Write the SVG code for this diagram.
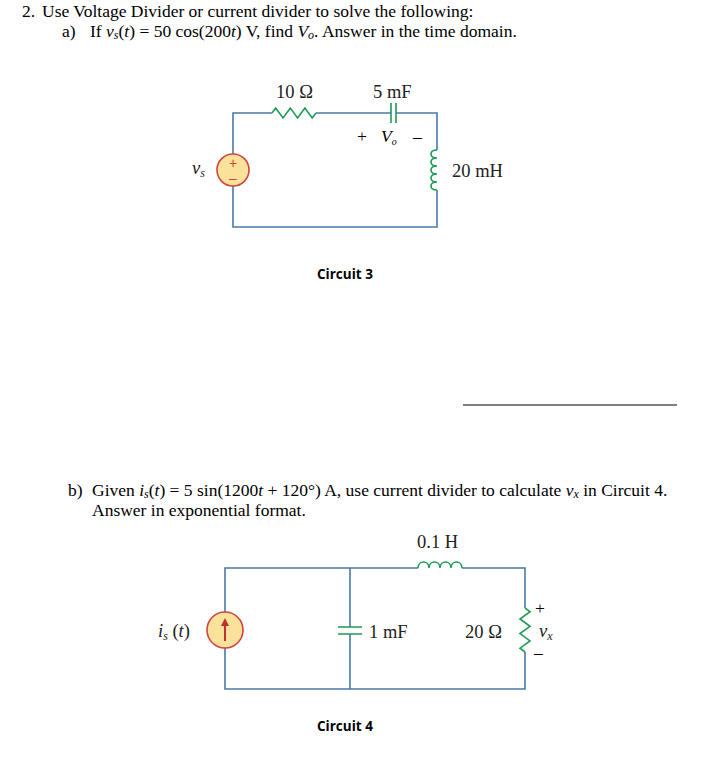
<svg xmlns="http://www.w3.org/2000/svg" width="723" height="782" viewBox="0 0 723 782">
<style>
.t{font-family:"Liberation Serif",serif;font-size:17.5px;fill:#000}
.l{font-family:"Liberation Serif",serif;font-size:18.5px;fill:#222}
.w{fill:none;stroke:#4a78a8;stroke-width:1.6}
.g{fill:none;stroke:#1f9a55;stroke-width:1.6}
.src{fill:#fbe29a;stroke:#d0453c;stroke-width:1.6}
.c{font-family:"Open Sans","Liberation Sans",sans-serif;font-size:13.5px;font-weight:bold}
</style>
<rect width="723" height="782" fill="#fff"/>
<text class="t" x="22" y="17">2.</text>
<text class="t" x="42" y="17">Use Voltage Divider or current divider to solve the following:</text>
<text class="t" x="62" y="37">a)</text>
<text class="t" x="90" y="37">If <tspan font-style="italic">v</tspan><tspan font-size="12" dy="2" font-style="italic">s</tspan><tspan dy="-2">(<tspan font-style="italic">t</tspan>) = 50 cos(200<tspan font-style="italic">t</tspan>) V, find <tspan font-style="italic">V</tspan></tspan><tspan font-size="12" dy="2" font-style="italic">o</tspan><tspan dy="-2">. Answer in the time domain.</tspan></text>
<g id="wires3" class="w">
<path d="M233 154V113H272M316 113H391M396 113H437V150M437 190V227H233V186"/>
</g>
<g id="R1"><path class="g" d="M272 113l3.7-5 7.3 10 7.3-10 7.3 10 7.3-10 7.3 10 3.8-5"/><text class="l" x="276" y="98">10 Ω</text></g>
<g id="C1"><path class="g" d="M391 103v20M396 103v20"/><text class="l" x="373" y="98">5 mF</text>
<text class="t" x="357" y="142" font-size="13">+</text><text class="t" x="381" y="142" font-style="italic" font-size="14">V<tspan font-size="10" dy="3">o</tspan></text><text class="t" x="413" y="142" font-size="13">–</text></g>
<g id="L1"><path class="g" d="M437 150c-8 0-8 8 0 8c-8 0-8 8 0 8c-8 0-8 8 0 8c-8 0-8 8 0 8c-8 0-8 8 0 8"/><text class="l" x="452" y="177">20 mH</text></g>
<g id="Vs"><circle class="src" cx="233" cy="170" r="16"/><text x="233" y="168" text-anchor="middle" font-family="Liberation Sans" font-size="14" fill="#d0453c">+</text><text x="233" y="183" text-anchor="middle" font-family="Liberation Sans" font-size="14" fill="#d0453c">–</text>
<text class="l" x="192" y="174" font-style="italic">v<tspan font-size="12" dy="3">s</tspan></text></g>
<text class="c" x="317" y="279">Circuit 3</text>
<path d="M463 405H677" stroke="#000" stroke-width="1"/>
<text class="t" x="68" y="496">b)</text>
<text class="t" x="92" y="496">Given <tspan font-style="italic">i</tspan><tspan font-size="12" dy="2" font-style="italic">s</tspan><tspan dy="-2">(<tspan font-style="italic">t</tspan>) = 5 sin(1200<tspan font-style="italic">t</tspan> + 120°) A, use current divider to calculate <tspan font-style="italic">v</tspan></tspan><tspan font-size="12" dy="2" font-style="italic">x</tspan><tspan dy="-2"> in Circuit 4.</tspan></text>
<text class="t" x="92" y="516">Answer in exponential format.</text>
<g id="wires4" class="w">
<path d="M225 612V568H418M462 568H525V608M525 652V689H225V648M350 568V627M350 634V689"/>
</g>
<g id="L2"><path class="g" d="M418 568c0-8 11-8 11 0c0-8 11-8 11 0c0-8 11-8 11 0c0-8 11-8 11 0"/><text class="l" x="417" y="548">0.1 H</text></g>
<g id="C2"><path class="g" d="M338 627h24M338 634h24"/><text class="l" x="369" y="638">1 mF</text></g>
<g id="R2"><path class="g" d="M525 608l5 3.7-10 7.3 10 7.3-10 7.3 10 7.3-10 7.3 5 3.8"/><text class="l" x="465" y="638">20 Ω</text>
<text class="t" x="535" y="614" font-size="16">+</text><text class="l" x="539" y="637" font-style="italic">v<tspan font-size="12" dy="3">x</tspan></text><text class="t" x="534" y="658" font-size="16">–</text></g>
<g id="Is"><circle class="src" cx="225" cy="630" r="18"/><path d="M225 641V623" stroke="#c0302c" stroke-width="2"/><path d="M225 618l-4 8h8z" fill="#c0302c"/>
<text class="l" x="158" y="637" font-style="italic">i<tspan font-size="12" dy="3">s</tspan><tspan dy="-3" font-style="normal"> (<tspan font-style="italic">t</tspan>)</tspan></text></g>
<text class="c" x="317" y="731">Circuit 4</text>
</svg>
